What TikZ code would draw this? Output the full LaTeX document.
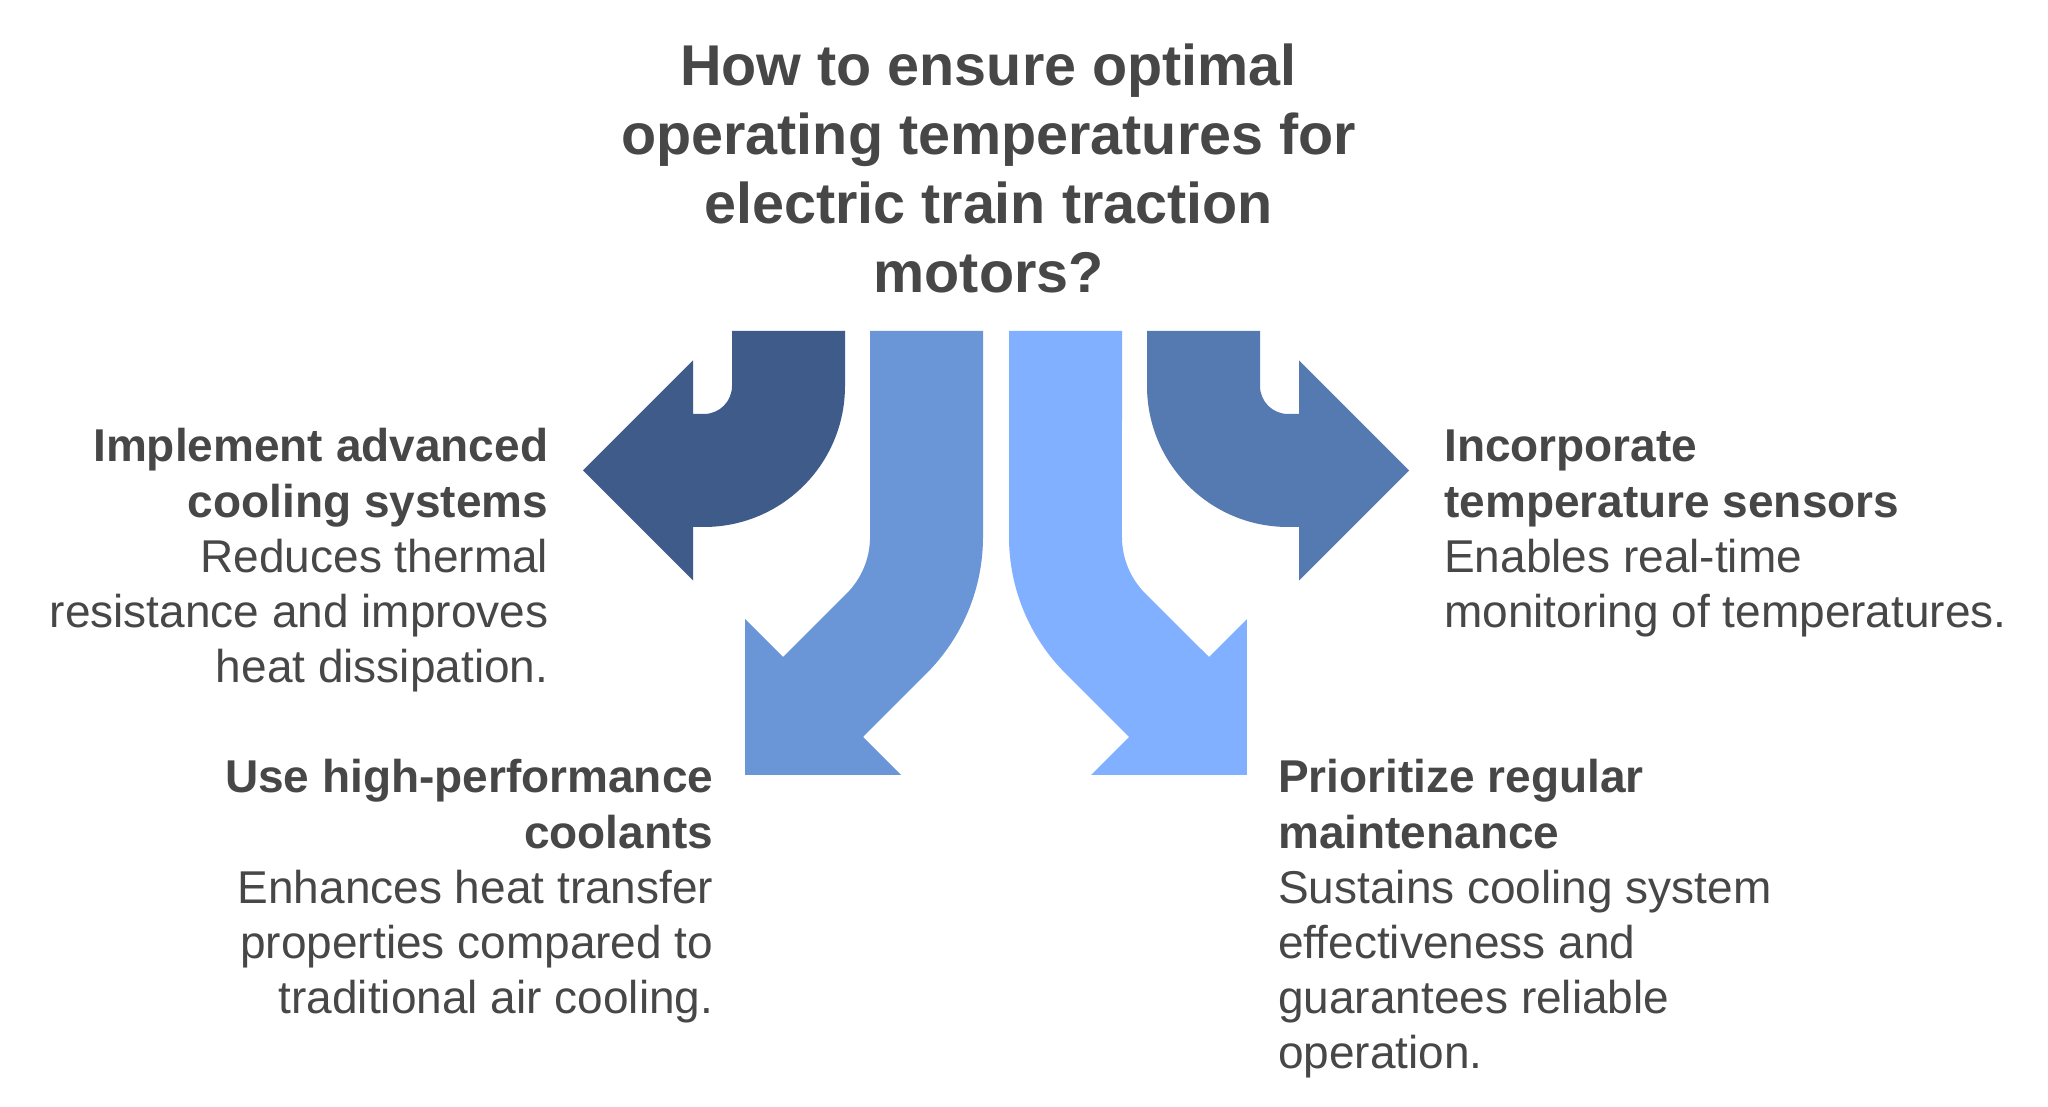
\documentclass[tikz,border=0pt]{standalone}
\usepackage{fontspec}
\setmainfont{Liberation Sans}
\definecolor{txt}{HTML}{474747}
\definecolor{arrA}{HTML}{3F5B8A}
\definecolor{arrB}{HTML}{6A95D7}
\definecolor{arrC}{HTML}{80B0FF}
\definecolor{arrD}{HTML}{5579B1}
\tikzset{
  titletext/.style={inner sep=0pt, text=txt, font=\fontsize{57.5}{68.7}\selectfont\bfseries},
  bodytext/.style={inner sep=0pt, text=txt, font=\fontsize{46}{55.2}\selectfont},
  arrowshape/.style={draw=none}
}
\begin{document}
\begin{tikzpicture}[x=1pt,y=1pt]
\useasboundingbox (0,0) rectangle (2048,1107);
\fill[white] (0,0) rectangle (2048,1107);

% Arrow 1: left, dark
\fill[arrA] (732,776) -- (845,776) -- (845,721)
  arc[start angle=0, end angle=-90, radius=141]
  -- (693,580) -- (693,526.5) -- (583,636.5) -- (693,746.5) -- (693,693) -- (704,693)
  arc[start angle=-90, end angle=0, radius=28] -- cycle;

% Arrow 4: right, medium dark
\fill[arrD] (1260,776) -- (1147,776) -- (1147,721)
  arc[start angle=180, end angle=270, radius=141]
  -- (1299,580) -- (1299,526.5) -- (1409,636.5) -- (1299,746.5) -- (1299,693) -- (1288,693)
  arc[start angle=270, end angle=180, radius=28] -- cycle;

% Arrow 2: down-left
\fill[arrB] (870,776) -- (983,776) -- (983,570)
  arc[start angle=0, end angle=-45, radius=193]
  -- (863,370) -- (900.8,332.2) -- (745.2,332.2) -- (745.2,487.8) -- (783,450) -- (846.6,513.4)
  arc[start angle=-45, end angle=0, radius=80] -- cycle;

% Arrow 3: down-right
\fill[arrC] (1122,776) -- (1009,776) -- (1009,570)
  arc[start angle=180, end angle=225, radius=193]
  -- (1129,370) -- (1091.2,332.2) -- (1246.8,332.2) -- (1246.8,487.8) -- (1209,450) -- (1145.4,513.4)
  arc[start angle=225, end angle=180, radius=80] -- cycle;

% Title
\node[titletext, anchor=base] (title) at (988.6,1021)
  {\begin{tabular}[t]{@{}c@{}}How to ensure optimal\\operating temperatures for\\electric train traction\\motors?\end{tabular}};

% Text blocks
\node[bodytext, anchor=base east] (cool) at (548.5,645)
  {\begin{tabular}[t]{@{}r@{}}\textbf{Implement advanced}\\\textbf{cooling systems}\\Reduces thermal\\resistance and improves\\heat dissipation.\end{tabular}};

\node[bodytext, anchor=base east] (coolant) at (713.5,314)
  {\begin{tabular}[t]{@{}r@{}}\textbf{Use high-performance}\\\textbf{coolants}\\Enhances heat transfer\\properties compared to\\traditional air cooling.\end{tabular}};

\node[bodytext, anchor=base west] (sensor) at (1444,645)
  {\begin{tabular}[t]{@{}l@{}}\textbf{Incorporate}\\\textbf{temperature sensors}\\Enables real-time\\monitoring of temperatures.\end{tabular}};

\node[bodytext, anchor=base west] (maint) at (1278,314)
  {\begin{tabular}[t]{@{}l@{}}\textbf{Prioritize regular}\\\textbf{maintenance}\\Sustains cooling system\\effectiveness and\\guarantees reliable\\operation.\end{tabular}};
\end{tikzpicture}
\end{document}
